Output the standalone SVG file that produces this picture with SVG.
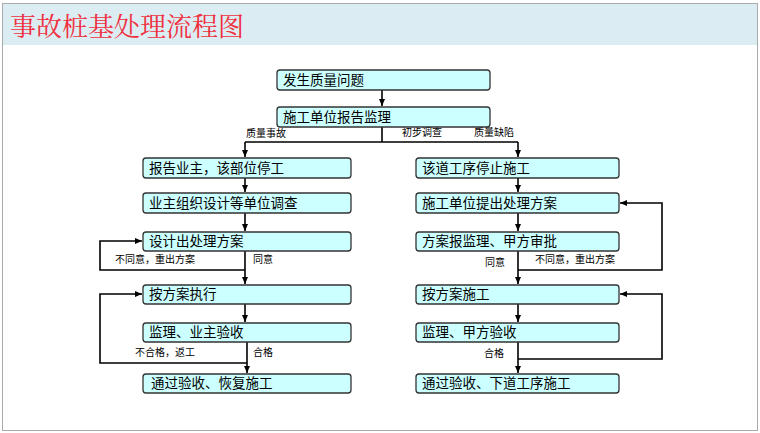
<svg xmlns="http://www.w3.org/2000/svg" width="760" height="433" viewBox="0 0 760 433">
<defs>
<marker id="ah" markerWidth="8" markerHeight="8" refX="7" refY="4" orient="auto" markerUnits="userSpaceOnUse"><path d="M0,1 L7,4 L0,7 z" fill="#000"/></marker>
<style>
.b{fill:#ccffff;stroke:#333;stroke-width:1.3}
.t{font-family:"Noto Sans CJK SC",sans-serif;font-size:13.5px;fill:#000}
.s{font-family:"Noto Sans CJK SC",sans-serif;font-size:10px;fill:#000}
.c{fill:none;stroke:#000;stroke-width:1.6}
</style>
</defs>
<rect x="0" y="0" width="760" height="433" fill="#fff"/>
<rect x="2.5" y="3.5" width="755" height="427" fill="#fff" stroke="#aaa"/>
<rect x="3" y="4" width="754" height="41" fill="#dbedf3"/>
<text x="10" y="36" font-family="'Noto Serif CJK SC','Noto Sans CJK SC',serif" font-size="26" fill="#f03040">事故桩基处理流程图</text>
<g id="connectors">
<path class="c" d="M382,90 V106" marker-end="url(#ah)"/>
<path class="c" d="M382,127 V142 M245,142 H518"/>
<path class="c" d="M245,142 V157" marker-end="url(#ah)"/>
<path class="c" d="M518,142 V157" marker-end="url(#ah)"/>
<path class="c" d="M245,178 V192" marker-end="url(#ah)"/>
<path class="c" d="M245,213 V231" marker-end="url(#ah)"/>
<path class="c" d="M245,251 V284" marker-end="url(#ah)"/>
<path class="c" d="M245,270 H100 V241 H142" marker-end="url(#ah)"/>
<path class="c" d="M245,304 V322" marker-end="url(#ah)"/>
<path class="c" d="M247,342 V373" marker-end="url(#ah)"/>
<path class="c" d="M247,363 H100 V294 H142" marker-end="url(#ah)"/>
<path class="c" d="M518,178 V192" marker-end="url(#ah)"/>
<path class="c" d="M518,213 V231" marker-end="url(#ah)"/>
<path class="c" d="M518,251 V284" marker-end="url(#ah)"/>
<path class="c" d="M518,270 H662 V203 H620" marker-end="url(#ah)"/>
<path class="c" d="M518,304 V322" marker-end="url(#ah)"/>
<path class="c" d="M518,342 V373" marker-end="url(#ah)"/>
<path class="c" d="M518,359 H662 V294 H620" marker-end="url(#ah)"/>
<text class="s" x="246" y="137">质量事故</text>
<text class="s" x="402" y="136">初步调查</text>
<text class="s" x="474" y="136">质量缺陷</text>
<text class="s" x="115" y="263">不同意，重出方案</text>
<text class="s" x="253" y="263">同意</text>
<text class="s" x="135" y="356">不合格，返工</text>
<text class="s" x="253" y="356">合格</text>
<text class="s" x="485" y="266">同意</text>
<text class="s" x="535" y="263">不同意，重出方案</text>
<text class="s" x="484" y="357">合格</text>
</g>
<g id="n1"><rect class="b" x="277" y="70" width="213" height="20" rx="3"/><text class="t" x="283" y="85">发生质量问题</text></g>
<g id="n2"><rect class="b" x="277" y="107" width="213" height="20" rx="3"/><text class="t" x="283" y="122">施工单位报告监理</text></g>
<g id="l1"><rect class="b" x="143" y="158" width="208" height="20" rx="3"/><text class="t" x="149" y="173">报告业主，该部位停工</text></g>
<g id="l2"><rect class="b" x="143" y="193" width="208" height="20" rx="3"/><text class="t" x="149" y="208">业主组织设计等单位调查</text></g>
<g id="l3"><rect class="b" x="143" y="232" width="208" height="19" rx="3"/><text class="t" x="149" y="246">设计出处理方案</text></g>
<g id="l4"><rect class="b" x="143" y="285" width="208" height="19" rx="3"/><text class="t" x="149" y="299">按方案执行</text></g>
<g id="l5"><rect class="b" x="143" y="323" width="208" height="19" rx="3"/><text class="t" x="149" y="337">监理、业主验收</text></g>
<g id="l6"><rect class="b" x="143" y="374" width="208" height="19" rx="3"/><text class="t" x="151" y="388">通过验收、恢复施工</text></g>
<g id="r1"><rect class="b" x="416" y="158" width="203" height="20" rx="3"/><text class="t" x="422" y="173">该道工序停止施工</text></g>
<g id="r2"><rect class="b" x="416" y="193" width="203" height="20" rx="3"/><text class="t" x="422" y="208">施工单位提出处理方案</text></g>
<g id="r3"><rect class="b" x="416" y="232" width="203" height="19" rx="3"/><text class="t" x="422" y="246">方案报监理、甲方审批</text></g>
<g id="r4"><rect class="b" x="416" y="285" width="203" height="19" rx="3"/><text class="t" x="422" y="299">按方案施工</text></g>
<g id="r5"><rect class="b" x="416" y="323" width="203" height="19" rx="3"/><text class="t" x="422" y="337">监理、甲方验收</text></g>
<g id="r6"><rect class="b" x="416" y="374" width="203" height="19" rx="3"/><text class="t" x="422" y="388">通过验收、下道工序施工</text></g>
</svg>
